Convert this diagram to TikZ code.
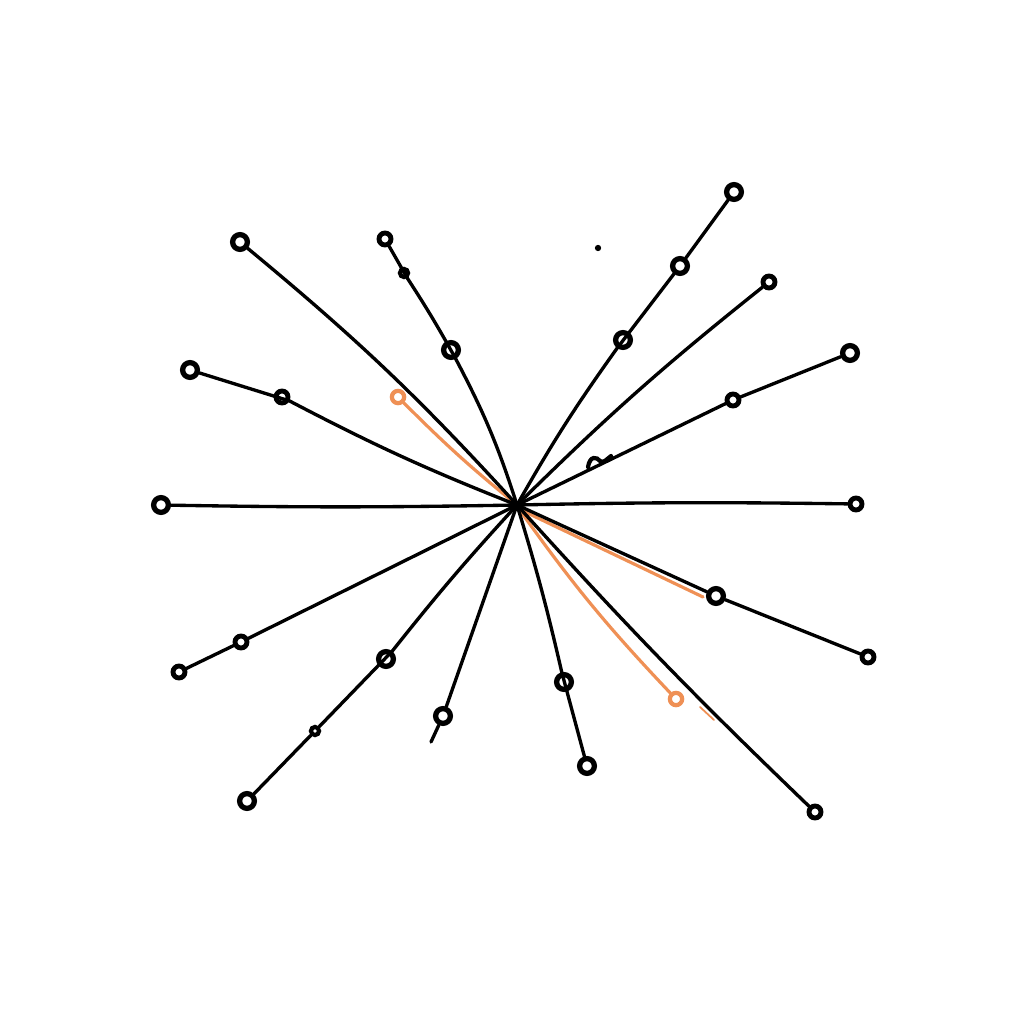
\documentclass[tikz,border=0pt]{standalone}
\usetikzlibrary{positioning}
\definecolor{penorange}{HTML}{EF9055}
\tikzset{
  ring/.style={circle, draw=black, line width=1.5pt, inner sep=0pt, minimum size=4.2pt},
  midring/.style={ring, line width=1.4pt, minimum size=3.4pt},
  tinyring/.style={ring, line width=1.2pt, minimum size=2.3pt},
  orangering/.style={ring, draw=penorange, line width=1.2pt, minimum size=3.5pt},
  ray/.style={line width=0.95pt, line cap=round},
  orangeray/.style={ray, draw=penorange, line width=0.9pt},
}

\begin{document}
\begin{tikzpicture}[x=0.1mm, y=-0.1mm]
\useasboundingbox [fill=white] (0, 0) rectangle (1024, 1024);
\coordinate (c) at (517, 505);
% rings on the rays
\node [ring] (a1) at (240, 242) {};
\node [ring] (b1) at (451, 350) {};
\node [tinyring] (b2) at (404, 273) {};
\node [midring] (b3) at (385, 239) {};
\node [ring] (c1) at (623, 340) {};
\node [ring] (c2) at (680, 266) {};
\node [ring] (c3) at (734, 192) {};
\node [midring] (d1) at (769, 282) {};
\node [midring] (e1) at (733, 400) {};
\node [ring] (e2) at (850, 353) {};
\node [midring] (f1) at (856, 504) {};
\node [ring] (g1) at (716, 596) {};
\node [midring] (g2) at (868, 657) {};
\node [midring] (h1) at (815, 812) {};
\node [ring] (i1) at (564, 682) {};
\node [ring] (i2) at (587, 766) {};
\node [ring] (j1) at (443, 716) {};
\coordinate (j2) at (431, 742);
\node [ring] (k1) at (386, 659) {};
\node [tinyring] (k2) at (315, 731) {};
\node [ring] (k3) at (247, 801) {};
\node [midring] (l1) at (241, 642) {};
\node [midring] (l2) at (179, 672) {};
\node [ring] (m1) at (161, 505) {};
\node [midring] (n1) at (282, 397) {};
\node [ring] (n2) at (190, 370) {};
\node [orangering] (o1) at (398, 397) {};
\node [orangering] (o2) at (676, 699) {};
\coordinate (o0) at (519, 509);
\coordinate (o3) at (700, 707);
\coordinate (o4) at (714, 720);
\coordinate (o5) at (703, 597);
% orange strokes
\draw [orangeray] (c) to [bend left=3] (o1);
\draw [orangeray] (o0) to [bend right=4] (o2);
\draw [orangeray, line width=0.5pt] (o3) -- (o4);
\draw [orangeray] (o0) -- (o5);
% black rays
\draw [ray] (c) to [bend right=4] (a1);
\draw [ray] (c) to [bend right=5] (b1) to [bend right=2] (b2) -- (b3);
\draw [ray] (c) to [bend left=3] (c1) -- (c2) -- (c3);
\draw [ray] (c) to [bend left=3] (d1);
\draw [ray] (c) -- (e1) -- (e2);
\draw [ray] (c) to [bend left=1] (f1);
\draw [ray] (c) -- (g1) -- (g2);
\draw [ray] (c) to [bend right=2] (h1);
\draw [ray] (c) to [bend left=2] (i1) -- (i2);
\draw [ray] (c) -- (j1) -- (j2);
\draw [ray] (c) to [bend right=2] (k1) -- (k2) -- (k3);
\draw [ray] (c) -- (l1) -- (l2);
\draw [ray] (c) to [bend left=1] (m1);
\draw [ray] (c) to [bend left=3] (n1) -- (n2);
% squiggle and stray dot
\draw [ray, line width=1.2pt] (588, 467) .. controls (590, 455) and (597, 457) .. (600, 461) .. controls (603, 464) and (607, 459) .. (611, 456);
\fill (598, 248) circle (0.9pt);
\end{tikzpicture}
\end{document}
